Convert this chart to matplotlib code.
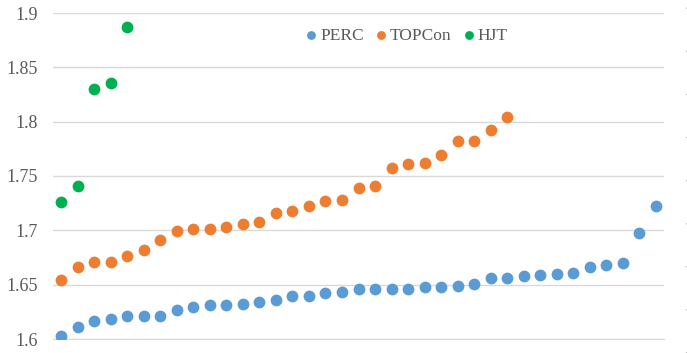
import matplotlib.pyplot as plt
import numpy as np

perc = [1.603, 1.611, 1.617, 1.618, 1.621, 1.621, 1.621, 1.627, 1.629, 1.631,
        1.631, 1.632, 1.634, 1.636, 1.640, 1.640, 1.642, 1.643, 1.646, 1.646,
        1.646, 1.646, 1.648, 1.648, 1.649, 1.651, 1.656, 1.656, 1.658, 1.659,
        1.660, 1.661, 1.666, 1.668, 1.670, 1.698, 1.722]
topcon = [1.654, 1.666, 1.671, 1.671, 1.676, 1.682, 1.691, 1.699, 1.701, 1.701,
          1.703, 1.706, 1.708, 1.716, 1.718, 1.722, 1.727, 1.728, 1.739, 1.741,
          1.757, 1.761, 1.762, 1.769, 1.782, 1.782, 1.792, 1.804]
hjt = [1.726, 1.741, 1.830, 1.836, 1.887]

names = ['PERC', 'TOPCon', 'HJT']
colors = ['#5B9BD5', '#ED7D31', '#00B050']
yticks = [1.6, 1.65, 1.7, 1.75, 1.8, 1.85, 1.9]

plt.rcParams['font.family'] = ['Liberation Serif', 'DejaVu Serif']

fig = plt.figure(figsize=(6.87, 3.53), dpi=100)
ax = fig.add_axes([53 / 687, 14 / 353, 611 / 687, 326 / 353])

for name, vals, c in zip(names, [perc, topcon, hjt], colors):
    ax.scatter(np.arange(len(vals)), vals, s=72, color=c, label=name,
               linewidths=0, zorder=3)

ax.set_xlim(-0.5, 36.5)
ax.set_ylim(1.6, 1.9)
ax.set_yticks(yticks)
ax.set_yticklabels(['1.6', '1.65', '1.7', '1.75', '1.8', '1.85', '1.9'])
ax.tick_params(axis='y', length=0, pad=10.8, labelsize=13, labelcolor='#595959')
ax.set_xticks([])
ax.grid(axis='y', color='#D9D9D9', linewidth=1)
for s in ['top', 'right', 'left']:
    ax.spines[s].set_visible(False)
ax.spines['bottom'].set_color('#D9D9D9')
ax.set_axisbelow(True)

leg = ax.legend(loc='center', bbox_to_anchor=(0.577, 0.93), ncol=3, frameon=False,
                fontsize=12.5, markerscale=0.75, handletextpad=0.05, columnspacing=0.55,
                handlelength=0.9, labelcolor='#595959')

fig.add_artist(plt.Line2D([686 / 687, 686 / 687], [0, 1], color='#BFBFBF',
                          linestyle=(0, (1, 30)), linewidth=1))

fig.savefig('out.png', dpi=100)
